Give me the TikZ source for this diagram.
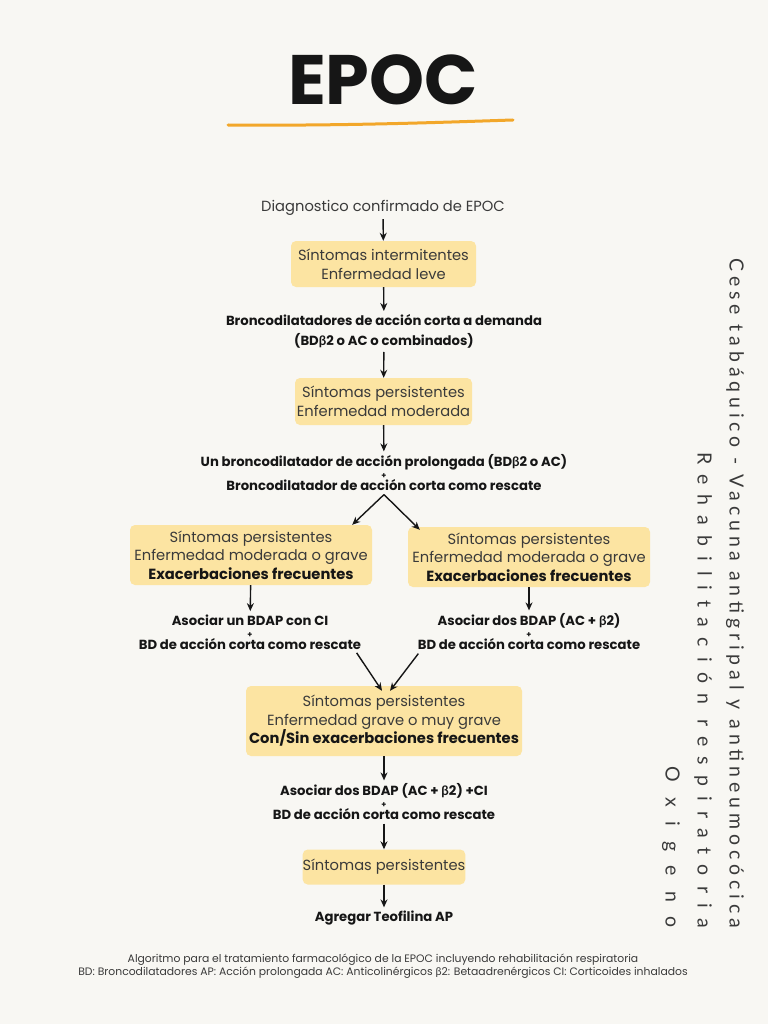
\documentclass[tikz,border=0pt]{standalone}
\usepackage{fontspec}
\setmainfont{Poppins}
\newfontfamily\grkfont{Lato}
\newfontfamily\sidefont{Lato}
\usetikzlibrary{arrows.meta}

\definecolor{paper}{HTML}{F8F7F3}
\definecolor{hilite}{HTML}{FCE4A2}
\definecolor{ink}{HTML}{3A3A3A}
\definecolor{inkdark}{HTML}{161616}
\definecolor{marker}{HTML}{F2A72A}

\newcommand{\bet}{{\grkfont β}}
\newcommand{\plusrow}{{\fontsize{8}{8}\selectfont +}}

\tikzset{
  hl/.style={fill=hilite, rounded corners=5pt, align=center, text=ink,
    inner sep=0pt, font=\fontsize{14.7}{19}\selectfont},
  note/.style={align=center, text=ink, font=\fontsize{14.7}{19}\selectfont},
  drug/.style={align=center, text=inkdark, font=\bfseries\fontsize{13.2}{12}\selectfont},
  side/.style={rotate=-90, anchor=east, text=ink, inner sep=0pt},
  flow/.style={->, line width=1.4pt, draw=inkdark},
}

\begin{document}
\begin{tikzpicture}[x=1pt,y=-1pt,>={Stealth[length=8pt,width=7pt]}]
  \useasboundingbox (0,0) rectangle (768,1024);
  \fill[paper] (0,0) rectangle (768,1024);

  % title
  \node[text=inkdark, font=\bfseries\fontsize{70}{70}\selectfont] (title) at (383,80) {EPOC};
  \draw[marker, line width=3pt, line cap=round] (228,125) .. controls (350,126) and (450,122) .. (513,120);

  % main column
  \node[note] (diag) at (383,208) {Diagnostico confirmado de EPOC};
  \node[hl, minimum width=185, minimum height=46] (s1) at (383.5,264)
    {Síntomas intermitentes\\Enfermedad leve};
  \node[drug] (t1) at (384,331.5)
    {Broncodilatadores de acción corta a demanda\\[7pt](BD\bet2 o AC o combinados)};
  \node[hl, minimum width=177, minimum height=47] (s2) at (383.5,401.5)
    {Síntomas persistentes\\Enfermedad moderada};
  \node[drug] (t2) at (384,473)
    {Un broncodilatador de acción prolongada (BD\bet2 o AC)\\\plusrow\\Broncodilatador de acción corta como rescate};

  % two branches
  \node[hl, minimum width=242, minimum height=60, font=\fontsize{14.7}{18.5}\selectfont] (s3l) at (251,555)
    {Síntomas persistentes\\Enfermedad moderada o grave\\{\bfseries\color{inkdark}Exacerbaciones frecuentes}};
  \node[hl, minimum width=242, minimum height=60, font=\fontsize{14.7}{18.5}\selectfont] (s3r) at (529,557)
    {Síntomas persistentes\\Enfermedad moderada o grave\\{\bfseries\color{inkdark}Exacerbaciones frecuentes}};
  \node[drug] (b3l) at (250,632)
    {Asociar un BDAP con CI\\\plusrow\\BD de acción corta como rescate};
  \node[drug] (b3r) at (529,632)
    {Asociar dos BDAP (AC + \bet2)\\\plusrow\\BD de acción corta como rescate};

  \node[hl, minimum width=276, minimum height=70, font=\fontsize{14.7}{18.5}\selectfont] (s4) at (384,721)
    {Síntomas persistentes\\Enfermedad grave o muy grave\\{\bfseries\color{inkdark}Con/Sin exacerbaciones frecuentes}};
  \node[drug] (b4) at (384,802)
    {Asociar dos BDAP (AC + \bet2) +CI\\\plusrow\\BD de acción corta como rescate};
  \node[hl, minimum width=162, minimum height=35] (s5) at (384,867) {Síntomas persistentes};
  \node[drug] (last) at (384,918) {Agregar Teofilina AP};

  % arrows
  \draw[flow] (diag) -- (s1);
  \draw[flow] (s1) -- (t1);
  \draw[flow] (t1) -- (s2);
  \draw[flow] (s2) -- (t2);
  \draw[flow] (t2.south) -- ([xshift=-20pt]s3l.north east);
  \draw[flow] (t2.south) -- ([xshift=12pt,yshift=-3pt]s3r.north west);
  \draw[flow] (s3l) -- (b3l);
  \draw[flow] (s3r) -- (b3r);
  \draw[flow] ([xshift=-8pt]b3l.south east) -- ([xshift=-2pt,yshift=-5pt]s4.north);
  \draw[flow] ([xshift=4pt]b3r.south west) -- ([xshift=6pt,yshift=-5pt]s4.north);
  \draw[flow] (s4) -- (b4);
  \draw[flow] (b4) -- (s5);
  \draw[flow] (s5) -- (last);

  % side notes
  \node[side, font=\sidefont\fontsize{19.5}{19.5}\selectfont\addfontfeature{LetterSpace=25}] (care) at (735,928)
    {Cese tabáquico - Vacuna antigripal y antineumocócica};
  \node[side, font=\sidefont\fontsize{19.5}{19.5}\selectfont\addfontfeature{LetterSpace=52}] (rehab) at (703,928)
    {Rehabilitación respiratoria};
  \node[side, font=\sidefont\fontsize{19.5}{19.5}\selectfont\addfontfeature{LetterSpace=76}] (oxy) at (671,928)
    {Oxigeno};

  % footer
  \node[align=center, text=ink, font=\fontsize{10.8}{13}\selectfont] (foot) at (383,966)
    {Algoritmo para el tratamiento farmacológico de la EPOC incluyendo rehabilitación respiratoria\\
     BD: Broncodilatadores AP: Acción prolongada AC: Anticolinérgicos \bet2: Betaadrenérgicos CI: Corticoides inhalados};
\end{tikzpicture}
\end{document}
